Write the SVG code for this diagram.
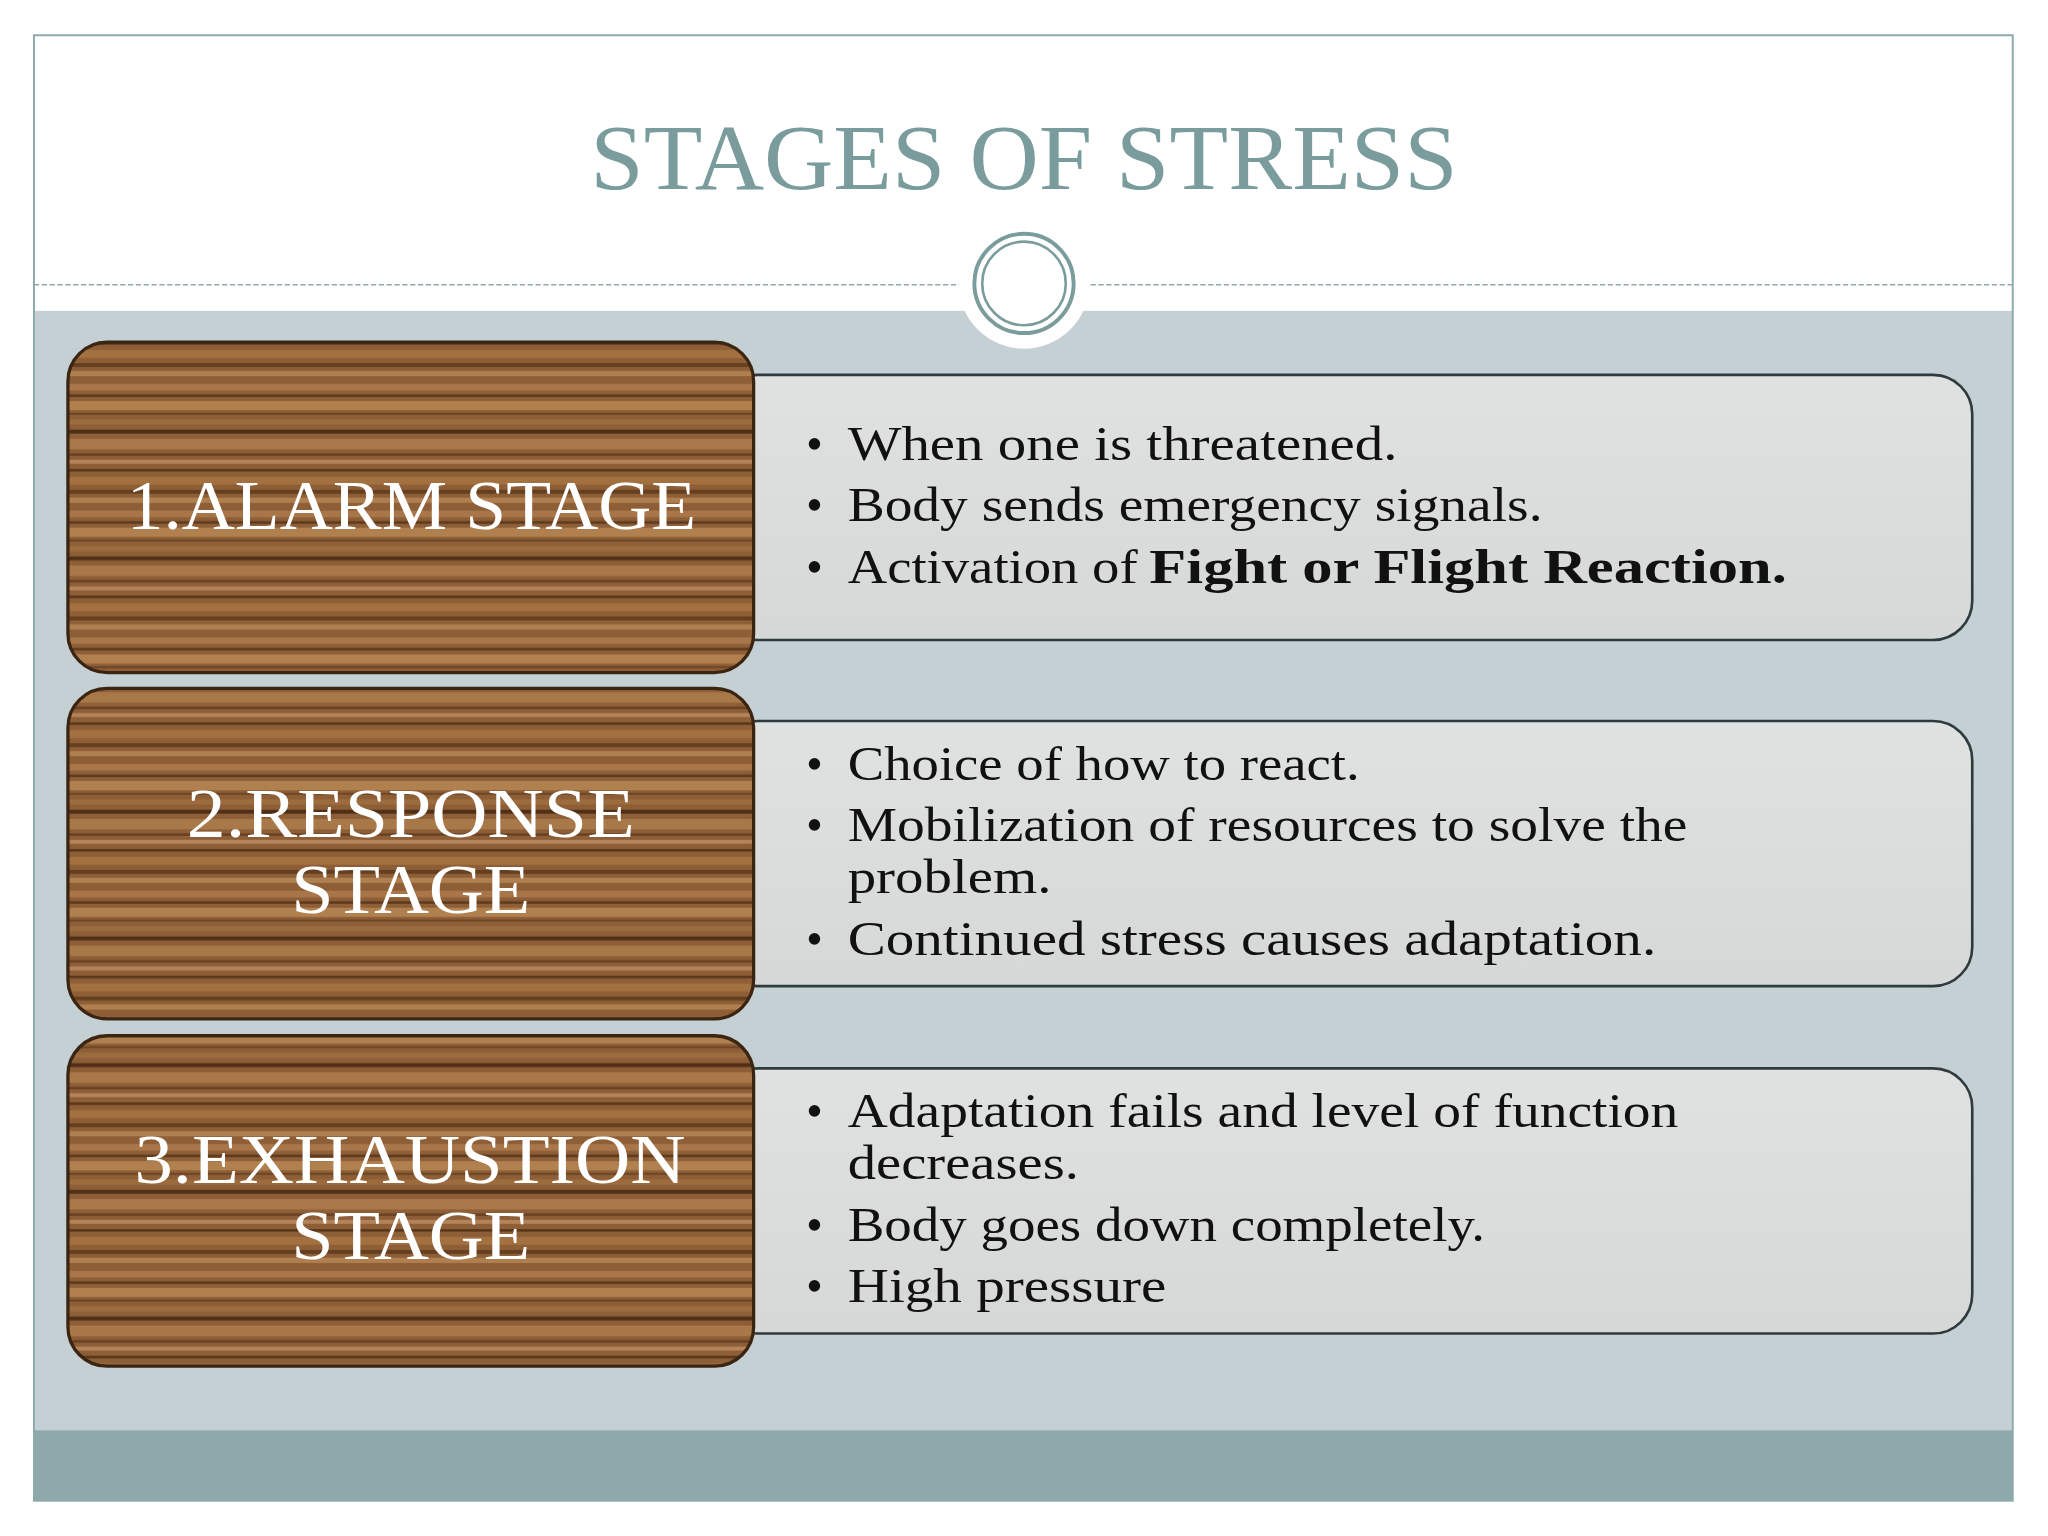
<svg xmlns="http://www.w3.org/2000/svg" width="2048" height="1536" viewBox="0 0 2048 1536">
<defs>
<pattern id="wood" patternUnits="userSpaceOnUse" width="525" height="97">
<rect width="525" height="97" fill="#8e5f37"/>
<rect y="3" width="525" height="5" fill="#a87648"/>
<rect y="11" width="525" height="2" fill="#5e3a1e"/>
<rect y="16" width="525" height="7" fill="#b0804f"/>
<rect y="25" width="525" height="1.5" fill="#6b4424"/>
<rect y="30" width="525" height="4" fill="#9c6b3e"/>
<rect y="38" width="525" height="3" fill="#4f2f17"/>
<rect y="45" width="525" height="8" fill="#a97849"/>
<rect y="56" width="525" height="2" fill="#6a4223"/>
<rect y="61" width="525" height="3" fill="#b3845a"/>
<rect y="68" width="525" height="2" fill="#5a371b"/>
<rect y="74" width="525" height="6" fill="#a3713f"/>
<rect y="84" width="525" height="3" fill="#643f20"/>
<rect y="90" width="525" height="4" fill="#b07f4f"/>
</pattern>
<linearGradient id="pan" x1="0" y1="0" x2="0" y2="1">
<stop offset="0" stop-color="#dfe2e1"/><stop offset="1" stop-color="#d6d8d7"/>
</linearGradient>
</defs>
<style>
.wood{fill:url(#wood);stroke:#3a2412;stroke-width:2.5}
.pan{fill:url(#pan);stroke:#2f3a3c;stroke-width:2}
.lab{font-family:"Liberation Serif",serif;font-size:54px;fill:#fff}
.txt{font-family:"Liberation Serif",serif;font-size:37px;fill:#111}
</style>
<g transform="scale(1.30612)">
<rect x="0" y="0" width="1568" height="1176" fill="#fff"/>
<rect x="26" y="238" width="1515" height="857" fill="#c4d0d4"/>
<rect x="26" y="1095" width="1515" height="54" fill="#8ea9ab"/>
<rect x="26" y="27" width="1515" height="1122" fill="none" stroke="#8ea9ab" stroke-width="1.5"/>
<line x1="26" y1="218" x2="735" y2="218" stroke="#8ea9ab" stroke-dasharray="4 2"/>
<line x1="835" y1="218" x2="1541" y2="218" stroke="#8ea9ab" stroke-dasharray="4 2"/>
<circle cx="784" cy="217" r="50" fill="#fff"/>
<circle cx="784" cy="217" r="38" fill="none" stroke="#7a9c9c" stroke-width="3"/>
<circle cx="784" cy="217" r="32" fill="none" stroke="#7a9c9c" stroke-width="2"/>
<text x="452" y="145" font-family="Liberation Serif,serif" font-size="72" fill="#7a9c9c" textLength="664" lengthAdjust="spacingAndGlyphs">STAGES OF STRESS</text>

<g id="panel1"><rect class="pan" x="550" y="287" width="960" height="203" rx="30"/>
<g class="txt"><text x="617" y="352">•</text><text x="649" y="352" textLength="421" lengthAdjust="spacingAndGlyphs">When one is threatened.</text>
<text x="617" y="399">•</text><text x="649" y="399" textLength="532" lengthAdjust="spacingAndGlyphs">Body sends emergency signals.</text>
<text x="617" y="446">•</text><text x="649" y="446" textLength="222" lengthAdjust="spacingAndGlyphs">Activation of</text><text x="880" y="446" font-weight="bold" textLength="488" lengthAdjust="spacingAndGlyphs">Fight or Flight Reaction.</text></g></g>
<g id="stage1"><rect class="wood" x="52" y="262" width="525" height="253" rx="30"/>
<text class="lab" x="97" y="405" textLength="436" lengthAdjust="spacingAndGlyphs">1.ALARM STAGE</text></g>

<g id="panel2"><rect class="pan" x="550" y="552" width="960" height="203" rx="30"/>
<g class="txt"><text x="617" y="597">•</text><text x="649" y="597" textLength="392" lengthAdjust="spacingAndGlyphs">Choice of how to react.</text>
<text x="617" y="644">•</text><text x="649" y="644" textLength="643" lengthAdjust="spacingAndGlyphs">Mobilization of resources to solve the</text>
<text x="649" y="684" textLength="156" lengthAdjust="spacingAndGlyphs">problem.</text>
<text x="617" y="731">•</text><text x="649" y="731" textLength="619" lengthAdjust="spacingAndGlyphs">Continued stress causes adaptation.</text></g></g>
<g id="stage2"><rect class="wood" x="52" y="527" width="525" height="253" rx="30"/>
<text class="lab" x="143" y="641" textLength="343" lengthAdjust="spacingAndGlyphs">2.RESPONSE</text><text class="lab" x="223" y="699" textLength="183" lengthAdjust="spacingAndGlyphs">STAGE</text></g>

<g id="panel3"><rect class="pan" x="550" y="818" width="960" height="203" rx="30"/>
<g class="txt"><text x="617" y="863">•</text><text x="649" y="863" textLength="636" lengthAdjust="spacingAndGlyphs">Adaptation fails and level of function</text>
<text x="649" y="903" textLength="177" lengthAdjust="spacingAndGlyphs">decreases.</text>
<text x="617" y="950">•</text><text x="649" y="950" textLength="488" lengthAdjust="spacingAndGlyphs">Body goes down completely.</text>
<text x="617" y="997">•</text><text x="649" y="997" textLength="244" lengthAdjust="spacingAndGlyphs">High pressure</text></g></g>
<g id="stage3"><rect class="wood" x="52" y="793" width="525" height="253" rx="30"/>
<text class="lab" x="103" y="906" textLength="422" lengthAdjust="spacingAndGlyphs">3.EXHAUSTION</text><text class="lab" x="223" y="964" textLength="183" lengthAdjust="spacingAndGlyphs">STAGE</text></g>
<g id="connectors"/>
</g>
</svg>
